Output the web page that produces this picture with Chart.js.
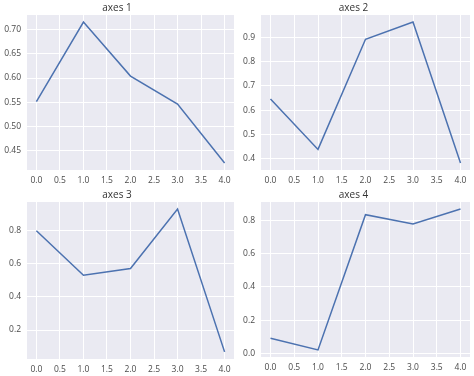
<!DOCTYPE html>
<html>
<head>
<meta charset="utf-8">
<script src="https://cdn.jsdelivr.net/npm/chart.js@4/dist/chart.umd.min.js"></script>
<style>
  html, body { margin: 0; padding: 0; background: #ffffff; }
  #wrap { position: relative; width: 474px; height: 376px; overflow: hidden; }
  canvas { position: absolute; }
</style>
</head>
<body>
<div id="wrap">
  <canvas id="c1" width="237" height="188" style="left:0px;top:0px"></canvas>
  <canvas id="c2" width="237" height="188" style="left:237px;top:0px"></canvas>
  <canvas id="c3" width="237" height="188" style="left:0px;top:188px"></canvas>
  <canvas id="c4" width="237" height="188" style="left:237px;top:188px"></canvas>
</div>
<script>
// ---- data ----
const xValues = [0, 1, 2, 3, 4];
const xTicks = [0, 0.5, 1, 1.5, 2, 2.5, 3, 3.5, 4];

const titles = ["axes 1", "axes 2", "axes 3", "axes 4"];

const series1 = [0.551, 0.716, 0.604, 0.546, 0.424];
const series2 = [0.646, 0.438, 0.893, 0.964, 0.382];
const series3 = [0.797, 0.530, 0.570, 0.927, 0.069];
const series4 = [0.090, 0.020, 0.836, 0.780, 0.870];

const yTicks1 = [0.45, 0.50, 0.55, 0.60, 0.65, 0.70];
const yTicks2 = [0.4, 0.5, 0.6, 0.7, 0.8, 0.9];
const yTicks3 = [0.2, 0.4, 0.6, 0.8];
const yTicks4 = [0.0, 0.2, 0.4, 0.6, 0.8];

const yDecimals = [2, 1, 1, 1];

// ---- layout (styles only) ----
const layouts = [
  { yWidth: 27, xHeight: 18, padRight: 3, titlePad: { top: 2, bottom: 1 } },
  { yWidth: 24, xHeight: 18, padRight: 4, titlePad: { top: 2, bottom: 1 } },
  { yWidth: 27, xHeight: 17, padRight: 3, titlePad: { top: 1, bottom: 1 } },
  { yWidth: 24, xHeight: 19, padRight: 4, titlePad: { top: 1, bottom: 1 } }
];

const FONT = "'Open Sans', 'Noto Sans', sans-serif";
const TEXT = "#4a4a4a";

const bgPlugin = {
  id: 'plotBg',
  beforeDraw(chart) {
    const a = chart.chartArea;
    const ctx = chart.ctx;
    ctx.save();
    ctx.fillStyle = '#EAEAF2';
    ctx.fillRect(a.left, a.top, a.right - a.left, a.bottom - a.top);
    ctx.restore();
  }
};

function margins(vals) {
  const lo = Math.min(...vals), hi = Math.max(...vals);
  const m = (hi - lo) * 0.05;
  return [lo - m, hi + m];
}

function makeChart(id, series, yTicks, idx) {
  const L = layouts[idx];
  const [ymin, ymax] = margins(series);
  const [xmin, xmax] = margins(xValues);
  const dec = yDecimals[idx];
  new Chart(document.getElementById(id), {
    type: 'line',
    data: {
      datasets: [{
        data: xValues.map((x, i) => ({ x: x, y: series[i] })),
        borderColor: '#4C72B0',
        borderWidth: 1.5,
        pointRadius: 0,
        tension: 0,
        fill: false
      }]
    },
    options: {
      responsive: false,
      animation: false,
      devicePixelRatio: 1,
      layout: { padding: { left: 0, right: L.padRight, top: 0, bottom: 0 } },
      plugins: {
        legend: { display: false },
        tooltip: { enabled: false },
        title: {
          display: true,
          text: titles[idx],
          color: '#333333',
          font: { family: FONT, size: 10, weight: 'normal', lineHeight: 1.2 },
          padding: L.titlePad
        }
      },
      scales: {
        x: {
          type: 'linear',
          min: xmin,
          max: xmax,
          afterBuildTicks(scale) { scale.ticks = xTicks.map(v => ({ value: v })); },
          afterFit(scale) { scale.height = L.xHeight; },
          grid: { color: '#ffffff', lineWidth: 1, drawTicks: false },
          border: { display: false },
          ticks: {
            color: TEXT,
            font: { family: FONT, size: 8.5 },
            padding: 5,
            maxRotation: 0,
            autoSkip: false,
            callback: (v) => Number(v).toFixed(1)
          }
        },
        y: {
          type: 'linear',
          min: ymin,
          max: ymax,
          afterBuildTicks(scale) { scale.ticks = yTicks.map(v => ({ value: v })); },
          afterFit(scale) { scale.width = L.yWidth; },
          grid: { color: '#ffffff', lineWidth: 1, drawTicks: false },
          border: { display: false },
          ticks: {
            color: TEXT,
            font: { family: FONT, size: 8.5 },
            padding: 6,
            autoSkip: false,
            callback: (v) => Number(v).toFixed(dec)
          }
        }
      }
    },
    plugins: [bgPlugin]
  });
}

makeChart('c1', series1, yTicks1, 0);
makeChart('c2', series2, yTicks2, 1);
makeChart('c3', series3, yTicks3, 2);
makeChart('c4', series4, yTicks4, 3);
</script>
</body>
</html>
